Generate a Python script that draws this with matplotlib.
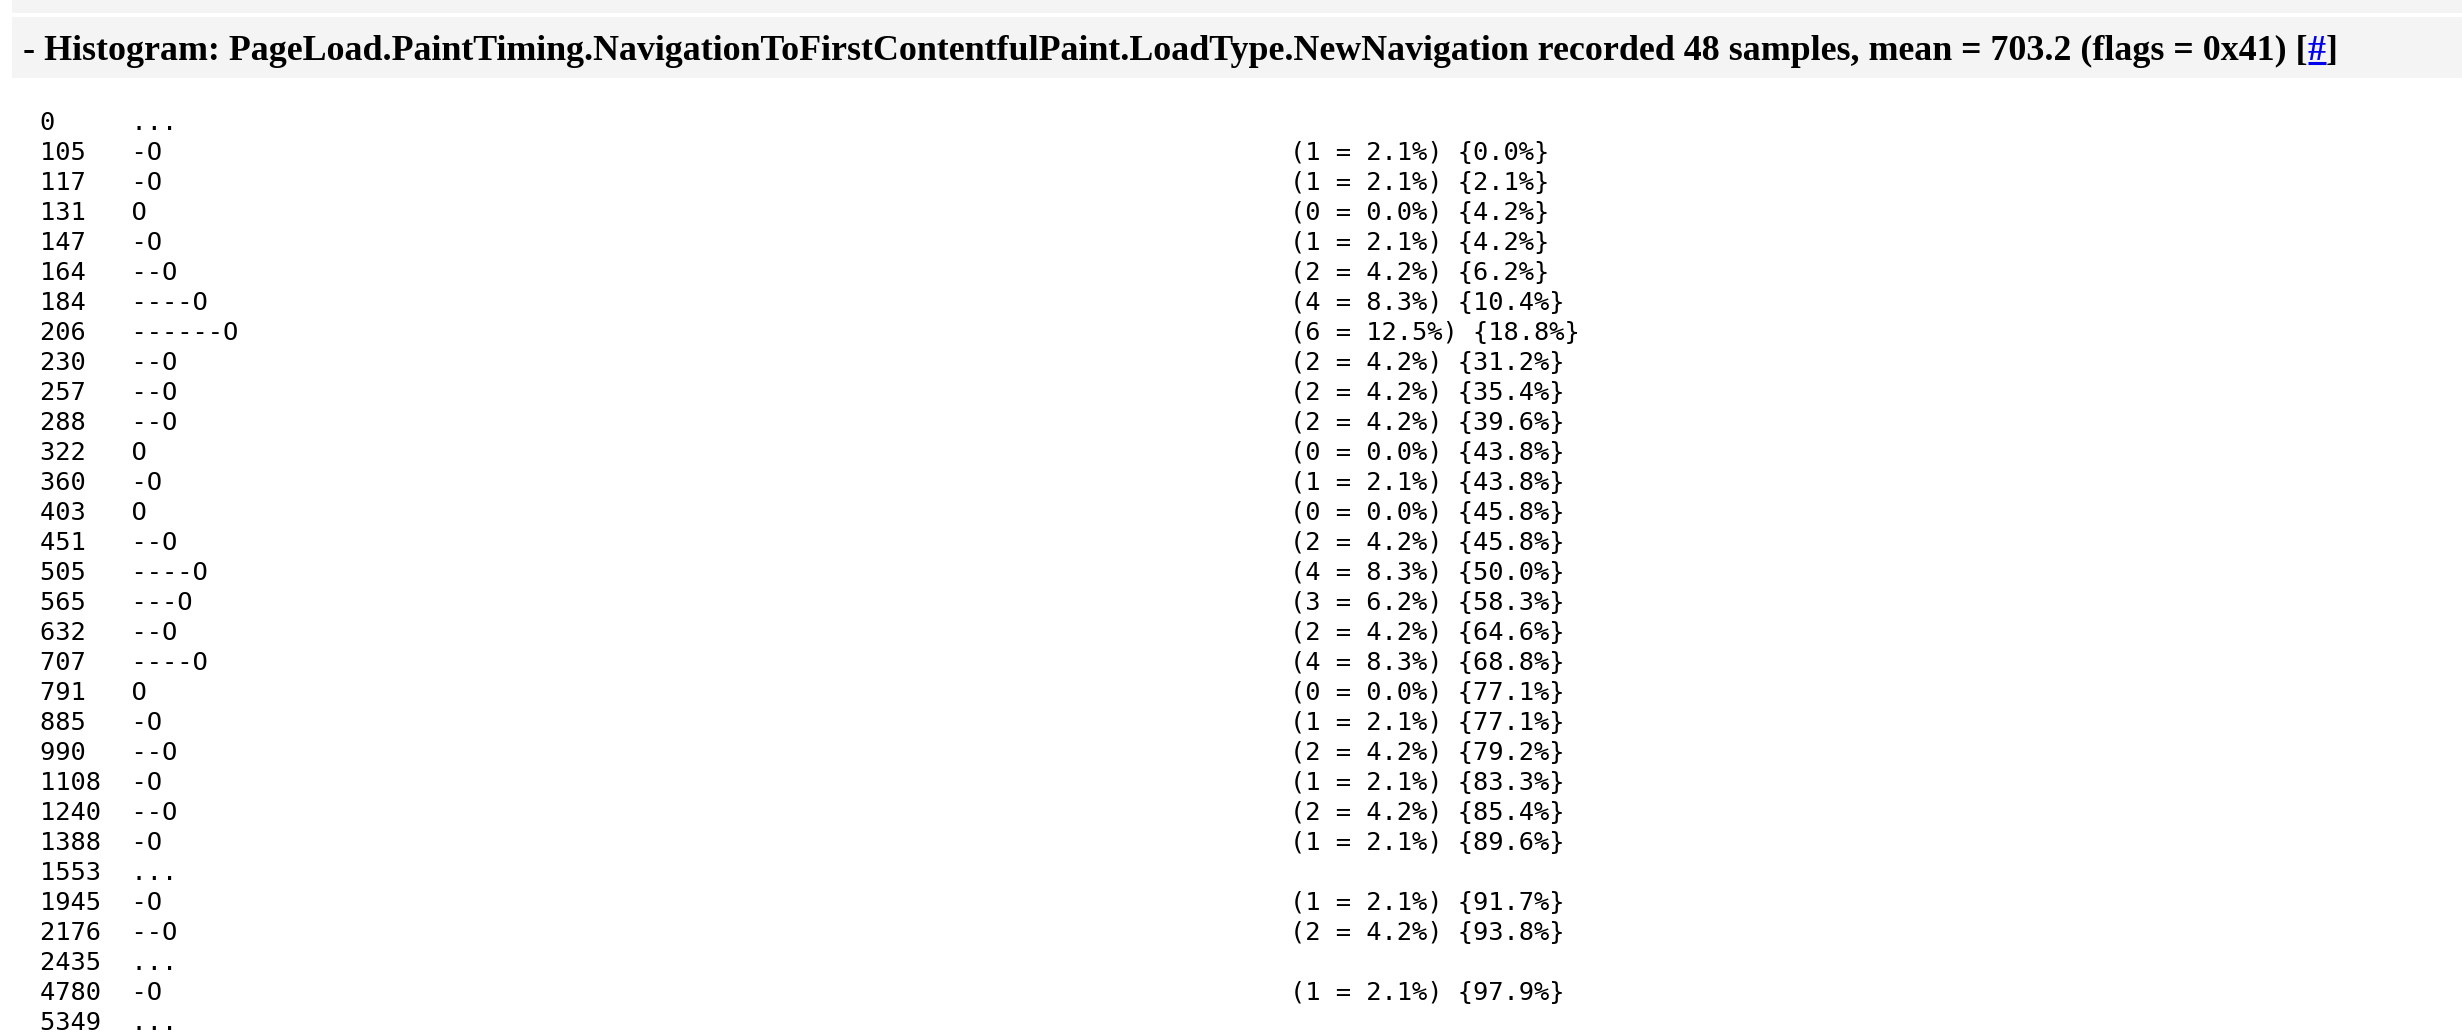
import matplotlib
matplotlib.use("Agg")
import matplotlib.pyplot as plt
from matplotlib.patches import Rectangle

# histogram dump
histogram_name = "PageLoad.PaintTiming.NavigationToFirstContentfulPaint.LoadType.NewNavigation"
sample_count = 48
mean_value = 703.2
flags = "0x41"

bucket_labels = [0, 105, 117, 131, 147, 164, 184, 206, 230, 257, 288, 322, 360, 403, 451,
                 505, 565, 632, 707, 791, 885, 990, 1108, 1240, 1388, 1553, 1945, 2176,
                 2435, 4780, 5349]
# None marks a collapsed "..." row
bucket_counts = [None, 1, 1, 0, 1, 2, 4, 6, 2, 2, 2, 0, 1, 0, 2,
                 4, 3, 2, 4, 0, 1, 2, 1, 2, 1, None, 1, 2,
                 None, 1, None]
bucket_pcts = [None, 2.1, 2.1, 0.0, 2.1, 4.2, 8.3, 12.5, 4.2, 4.2, 4.2, 0.0, 2.1, 0.0, 4.2,
               8.3, 6.2, 4.2, 8.3, 0.0, 2.1, 4.2, 2.1, 4.2, 2.1, None, 2.1, 4.2,
               None, 2.1, None]
cumulative_pcts = [None, 0.0, 2.1, 4.2, 4.2, 6.2, 10.4, 18.8, 31.2, 35.4, 39.6, 43.8, 43.8,
                   45.8, 45.8, 50.0, 58.3, 64.6, 68.8, 77.1, 77.1, 79.2, 83.3, 85.4, 89.6,
                   None, 91.7, 93.8, None, 97.9, None]

W, H = 2462, 1036
fig = plt.figure(figsize=(W / 100, H / 100), dpi=100)
ax = fig.add_axes([0, 0, 1, 1])
ax.set_xlim(0, W)
ax.set_ylim(H, 0)
ax.axis("off")

header_grey = "#f4f4f4"
ax.add_patch(Rectangle((12, 0), W - 12, 13, color=header_grey, lw=0))
ax.add_patch(Rectangle((12, 17), W - 12, 61, color=header_grey, lw=0))

serif = ["Liberation Serif", "DejaVu Serif"]
title_size = 25.85
title_y = 60
renderer = fig.canvas.get_renderer()

head = (f"- Histogram: {histogram_name} recorded {sample_count} samples, "
        f"mean = {mean_value} (flags = {flags}) [")
t1 = ax.text(23, title_y, head, family=serif, weight="bold", fontsize=title_size,
             va="baseline", ha="left", color="black")
x1 = t1.get_window_extent(renderer).x1
t2 = ax.text(x1, title_y, "#", family=serif, weight="bold", fontsize=title_size,
             va="baseline", ha="left", color="#0000ee")
bb2 = t2.get_window_extent(renderer)
ax.plot([bb2.x0, bb2.x1], [title_y + 3, title_y + 3], color="#0000ee", lw=2.2,
        solid_capstyle="butt")
ax.text(bb2.x1, title_y, "]", family=serif, weight="bold", fontsize=title_size,
        va="baseline", ha="left", color="black")

mono = "DejaVu Sans Mono"
mono_size = 18.3
row_y0, row_step = 130, 30
for i, label in enumerate(bucket_labels):
    y = row_y0 + i * row_step
    count = bucket_counts[i]
    bar = "..." if count is None else "-" * count + "O"
    ax.text(40, y, f"{label:<6}{bar}", family=mono, fontsize=mono_size,
            va="baseline", ha="left", color="black")
    if count is not None:
        ax.text(1290, y, f"({count} = {bucket_pcts[i]:.1f}%) {{{cumulative_pcts[i]:.1f}%}}",
                family=mono, fontsize=mono_size, va="baseline", ha="left", color="black")

fig.savefig("out.png", dpi=100, facecolor="white")
